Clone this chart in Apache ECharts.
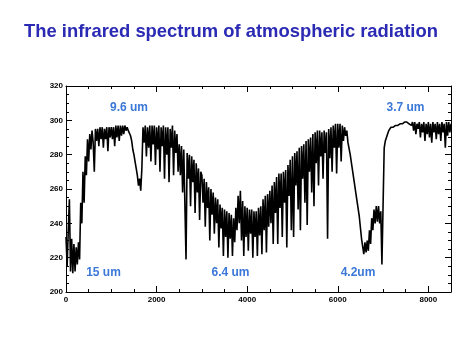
<!DOCTYPE html>
<html><head><meta charset="utf-8">
<script src="https://cdn.jsdelivr.net/npm/echarts@6/dist/echarts.min.js"></script>
<style>html,body{margin:0;padding:0;background:#fff}#c{width:474px;height:355px}</style>
</head><body><div id="c"></div>
<script>
const titleText = 'The infrared spectrum of atmospheric radiation';
// wavenumber grid: start and step (cm^-1)
const xStart = 0, xStep = 25;
// brightness temperature (K), 20 values per 500 cm^-1
const tb0000 = [232,215,236,254,212,231,211,228,212,226,216,229,219,252,240,270,252,279,268,289];
const tb0500 = [276,292,283,294,287,270,295,288,295,285,296,289,296,284,295,289,296,282,296,290];
const tb1000 = [296,289,296,285,297,290,297,288,297,291,297,292,297,294,296,294,295,291,288,283];
const tb1500 = [280,276,272,268,262,266,259,272,296,287,297,279,296,284,297,276,297,286,297,274];
const tb2000 = [296,283,297,270,296,285,297,266,296,280,296,264,295,284,297,268,294,281,292,270];
const tb2500 = [286,268,285,258,283,282,219,281,266,280,250,279,264,277,246,275,258,272,242,270];
const tb3000 = [268,252,266,238,264,249,261,230,260,245,258,234,255,240,254,226,251,237,249,221];
const tb3500 = [248,232,247,220,246,231,245,221,243,229,249,236,256,240,259,230,253,221,250,232];
const tb4000 = [249,224,248,234,248,220,247,232,247,221,249,233,250,222,254,236,256,223,257,238];
const tb4500 = [259,240,262,228,264,246,267,228,269,249,269,232,270,252,271,226,274,256,277,236];
const tb5000 = [279,232,281,262,282,248,284,236,285,266,286,252,288,239,289,270,290,258,292,250];
const tb5500 = [293,275,294,262,294,279,293,266,294,281,293,231,295,278,296,270,297,284,298,269];
const tb6000 = [298,284,298,276,297,288,296,291,294,287,288,280,281,271,271,262,263,253,254,244];
const tb6500 = [244,231,232,222,229,223,230,224,236,228,243,236,248,240,250,241,250,240,247,216];
const tb7000 = [250,284,288,290,292,294,295,296,296,296,297,297,297,297,298,298,298,298,298,299];
const tb7500 = [299,299,299,298,299,297,299,294,299,292,298,295,299,290,298,293,299,288,298,292];
const tb8000 = [299,290,298,287,299,293,298,289,299,292,298,288,299,293,298,284,299,291,299,293];
const tb8500 = [298];
const bandLabels = ['9.6 um', '3.7 um', '15 um', '6.4 um', '4.2um'];

const tb = [].concat(tb0000,tb0500,tb1000,tb1500,tb2000,tb2500,tb3000,tb3500,tb4000,tb4500,
  tb5000,tb5500,tb6000,tb6500,tb7000,tb7500,tb8000,tb8500);
const seriesData = tb.map((v, i) => [xStart + i * xStep, v]);

const FONT = 'Liberation Sans';
const black = {color:'#000', width:1};
function xAx(pos, interval, len, labels, line) {
  return {
    type:'value', position:pos, min:0, max:8500, interval:interval,
    axisLine:{show:line, onZero:false, lineStyle:black},
    axisTick:{show:true, inside:true, length:len, lineStyle:black},
    axisLabel: labels ? {show:true, margin:4, fontSize:8, fontWeight:'bold', color:'#000', fontFamily:FONT,
      formatter: v => (v % 2000 === 0 ? String(v) : '')} : {show:false},
    splitLine:{show:false}
  };
}
function yAx(pos, labels) {
  return {
    type:'value', position:pos, min:200, max:320, interval:20,
    axisLine:{show:true, onZero:false, lineStyle:black},
    axisTick:{show:true, inside:true, length:6, lineStyle:black},
    minorTick:{show:true, splitNumber:4, length:3, lineStyle:black},
    axisLabel: labels ? {show:true, margin:3, fontSize:8, fontWeight:'bold', color:'#000', fontFamily:FONT} : {show:false},
    splitLine:{show:false}, minorSplitLine:{show:false}
  };
}
const labelStyle = {fill:'#3b78d8', fontSize:12, fontWeight:'bold', fontFamily:FONT, align:'center', verticalAlign:'middle'};
const labelPos = [[129,108],[405.5,108],[103.5,272.5],[230.5,272.5],[358,272.5]];

const chart = echarts.init(document.getElementById('c'), null, {renderer:'canvas'});
chart.setOption({
  animation:false,
  backgroundColor:'#fff',
  title:{text:titleText, left:24, top:23, padding:0,
    textStyle:{fontSize:18.4, fontWeight:'bold', color:'#2a2ab4', fontFamily:FONT}},
  grid:{left:66, right:23, top:86, bottom:63, containLabel:false},
  xAxis:[xAx('bottom',500,3,true,true), xAx('bottom',2000,6,false,false),
         xAx('top',500,3,false,true), xAx('top',2000,6,false,false)],
  yAxis:[yAx('left',true), yAx('right',false)],
  series:[{type:'line', xAxisIndex:0, yAxisIndex:0, data:seriesData, showSymbol:false, symbol:'none',
    lineStyle:{color:'#000', width:1.6}, itemStyle:{color:'#000'}, silent:true}],
  graphic: bandLabels.map((t, i) => ({type:'text', x:labelPos[i][0], y:labelPos[i][1],
    style:Object.assign({text:t}, labelStyle)}))
});
</script></body></html>
